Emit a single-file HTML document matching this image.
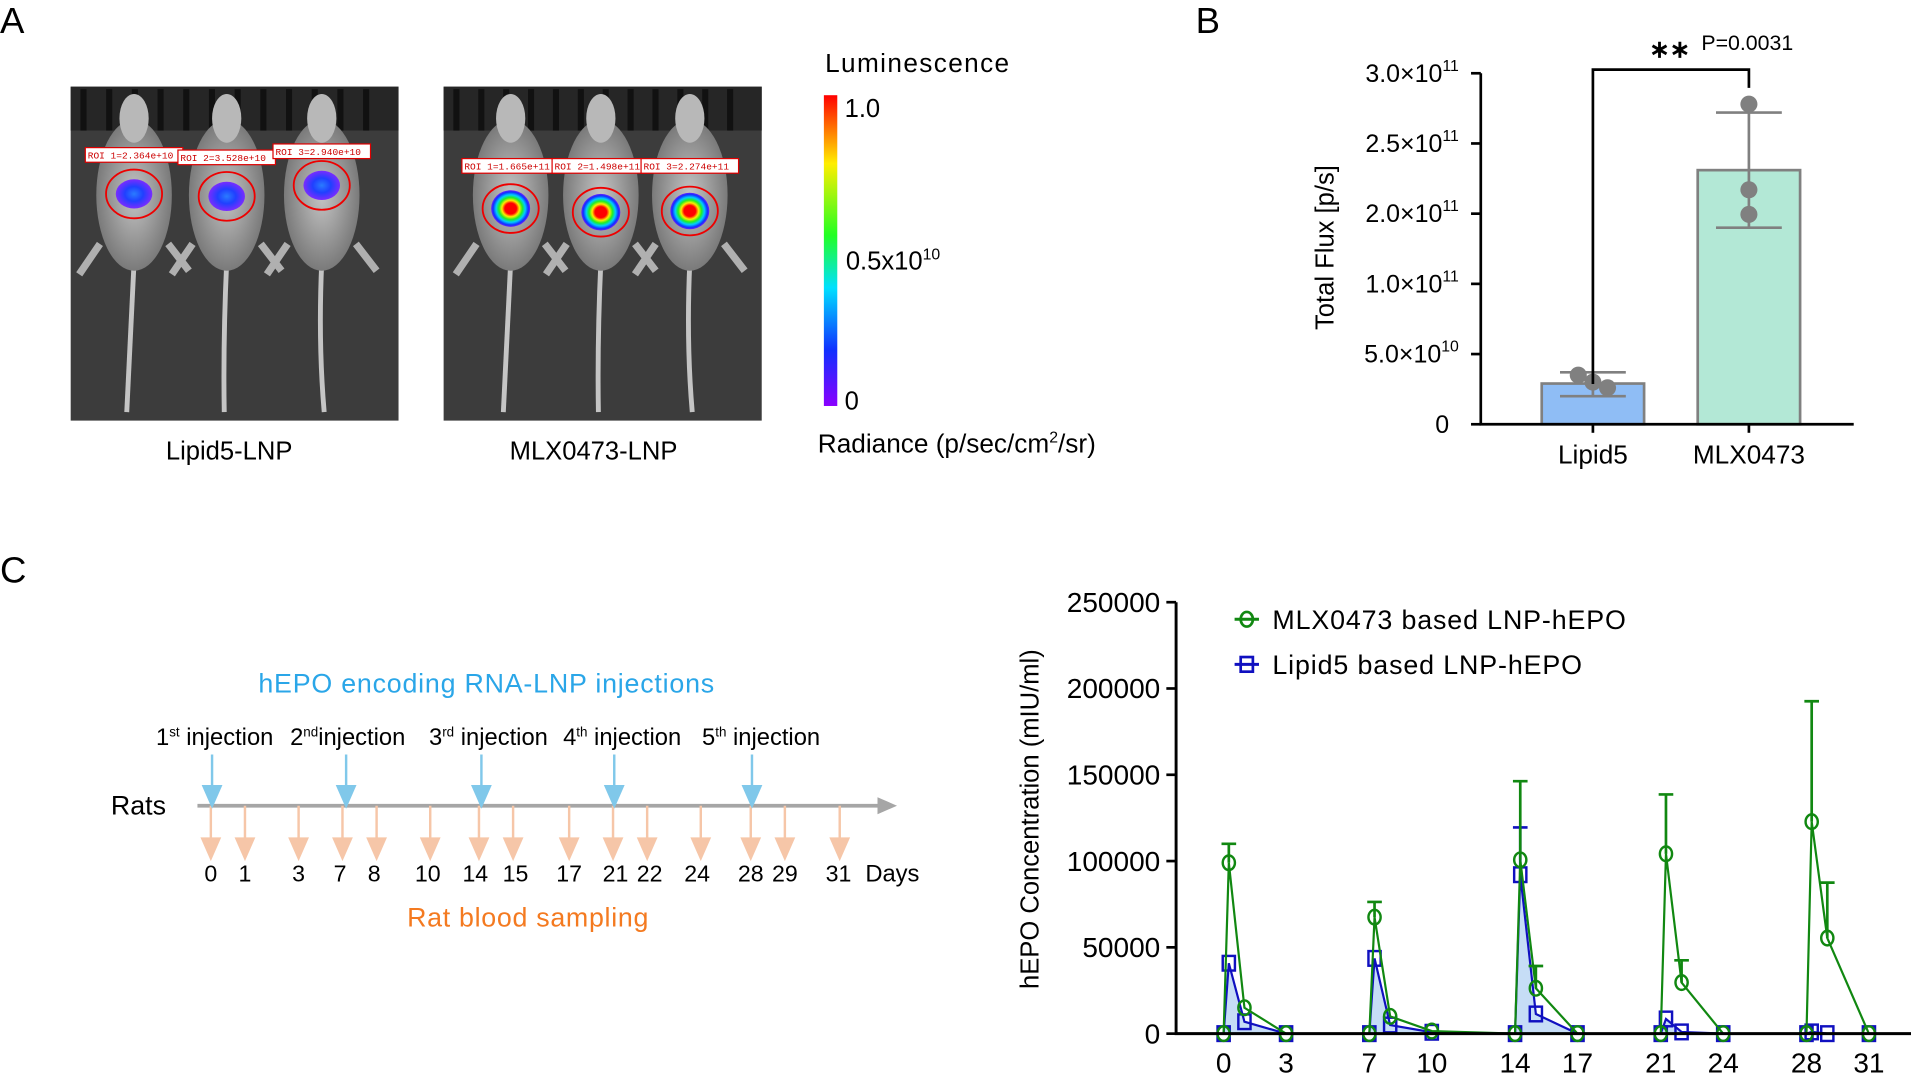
<!DOCTYPE html>
<html><head><meta charset="utf-8"><style>
html,body{margin:0;padding:0;background:#fff}
svg{display:block;font-family:"Liberation Sans",Arial,sans-serif}
</style></head><body>
<svg id="fig" width="1911" height="1074" viewBox="0 0 1568 881" xmlns="http://www.w3.org/2000/svg">
<defs>
<linearGradient id="cbar" x1="0" y1="0" x2="0" y2="1">
<stop offset="0" stop-color="#ff0000"/><stop offset="0.22" stop-color="#ffee00"/><stop offset="0.45" stop-color="#22ff22"/><stop offset="0.62" stop-color="#00e0ff"/><stop offset="0.82" stop-color="#1030ff"/><stop offset="1" stop-color="#8a00ff"/>
</linearGradient>
<radialGradient id="hot"><stop offset="0" stop-color="#ff0000"/><stop offset="0.3" stop-color="#ff0000"/><stop offset="0.45" stop-color="#ffee00"/><stop offset="0.6" stop-color="#22ee22"/><stop offset="0.75" stop-color="#00ccff"/><stop offset="0.9" stop-color="#1030ff"/><stop offset="1" stop-color="#6a20ff"/></radialGradient>
<radialGradient id="cold"><stop offset="0" stop-color="#2a7cff"/><stop offset="0.5" stop-color="#2040ff"/><stop offset="1" stop-color="#7a2cff"/></radialGradient>
<radialGradient id="mouse"><stop offset="0" stop-color="#c4c4c4"/><stop offset="1" stop-color="#7a7a7a"/></radialGradient>
</defs>

<!-- Panel A -->
<text x="0" y="27" font-size="30">A</text>
<g id="imgs"></g>
<rect x="676" y="78" width="11" height="255" fill="url(#cbar)"/>
<text x="677" y="59" font-size="21.5" textLength="151">Luminescence</text>
<text x="693" y="96" font-size="21">1.0</text>
<text x="694" y="221" font-size="21">0.5x10<tspan font-size="13" dy="-8">10</tspan></text>
<text x="693" y="336" font-size="21">0</text>
<text x="671" y="371" font-size="21.5">Radiance (p/sec/cm<tspan font-size="13" dy="-8">2</tspan><tspan dy="8">/sr)</tspan></text>
<text x="188" y="377" font-size="21" text-anchor="middle">Lipid5-LNP</text>
<text x="487" y="377" font-size="21" text-anchor="middle">MLX0473-LNP</text>

<!-- Panel B -->
<text x="981" y="27" font-size="30">B</text>
<g id="barchart"></g>

<!-- Panel C -->
<text x="0" y="478" font-size="30">C</text>
<g id="timeline"></g>
<g id="linechart"></g>
</svg>
<script>
// ---- Bar chart data ----
const barCats = ["Lipid5", "MLX0473"];
const barMeans = [0.29, 2.31];
const barErrLow = [0.20, 1.80];
const barErrHigh = [0.37, 2.72];
const barPoints = [[0.35, 0.30, 0.26], [2.78, 2.17, 1.99]];
const barTickVals = [0, 0.5, 1.0, 2.0, 2.5, 3.0];
const barTickMant = ["0", "5.0", "1.0", "2.0", "2.5", "3.0"];
const barTickExp = ["", "10", "11", "11", "11", "11"];
const pValue = "P=0.0031";

// ---- Line chart data ----
const days = [0, 0.25, 1, 3, 7, 7.25, 8, 10, 14, 14.25, 15, 17, 21, 21.25, 22, 24, 28, 28.25, 29, 31];
const mlxVals = [0, 99000, 15000, 0, 0, 67500, 10000, 1500, 0, 100700, 26300, 0, 0, 104200, 29600, 0, 0, 122800, 55400, 0];
const mlxErr = [0, 11000, 0, 0, 0, 8800, 0, 0, 0, 45600, 12900, 0, 0, 34400, 12900, 0, 0, 69800, 32100, 0];
const lipVals = [0, 40800, 6900, 0, 0, 43600, 5000, 800, 0, 92100, 11400, 0, 0, 8500, 1000, 0, 0, 1000, 0, 0];
const lipErr = [0, 0, 0, 0, 0, 0, 0, 0, 0, 27400, 0, 0, 0, 0, 0, 0, 0, 0, 0, 0];
const xTickDays = [0, 3, 7, 10, 14, 17, 21, 24, 28, 31];
const yTicks = [0, 50000, 100000, 150000, 200000, 250000];
const legendLabels = ["MLX0473 based LNP-hEPO", "Lipid5 based LNP-hEPO"];

// ---- Timeline data ----
const injDays = [0, 7, 14, 21, 28];
const injOrd = ["st", "nd", "rd", "th", "th"];
const sampleDays = [0, 1, 3, 7, 8, 10, 14, 15, 17, 21, 22, 24, 28, 29, 31];

const NS = "http://www.w3.org/2000/svg";
function mk(tag, attrs, parent, text) {
  const e = document.createElementNS(NS, tag);
  for (const k in attrs) e.setAttribute(k, attrs[k]);
  if (text !== undefined) e.textContent = text;
  parent.appendChild(e);
  return e;
}

// ===== Images (panel A) =====
(function () {
  const g = document.getElementById('imgs');
  const panels = [
    {x: 58, w: 269, mice: [110, 186, 264], by: [159, 161, 152], hot: false, rois: ["ROI 1=2.364e+10", "ROI 2=3.528e+10", "ROI 3=2.940e+10"], ry: [128, 130, 125]},
    {x: 364, w: 261, mice: [419, 493, 566], by: [171, 174, 173], hot: true, rois: ["ROI 1=1.665e+11", "ROI 2=1.498e+11", "ROI 3=2.274e+11"], ry: [137, 137, 137]}
  ];
  panels.forEach((p, pi) => {
    const pg = mk('g', {}, g);
    
    
    mk('rect', {x: p.x, y: 71, width: p.w, height: 274, fill: '#3c3c3c'}, pg);
    mk('rect', {x: p.x, y: 71, width: p.w, height: 36, fill: '#262626'}, pg);
    for (let i = 0; i < 12; i++) mk('rect', {x: p.x + 8 + i * (p.w - 16) / 12, y: 73, width: 5, height: 34, fill: '#111'}, pg);
    p.mice.forEach((mx, i) => {
      const by = p.by[i];
      mk('path', {d: `M${mx} 215 Q${mx - 3} 280 ${mx - 6 + i * 4} 338`, stroke: '#c4c4c4', 'stroke-width': 4, fill: 'none'}, pg);
      mk('ellipse', {cx: mx, cy: 160, rx: 31, ry: 62, fill: 'url(#mouse)'}, pg);
      mk('ellipse', {cx: mx, cy: 97, rx: 12, ry: 20, fill: '#b8b8b8'}, pg);
      mk('path', {d: `M${mx - 28} 200 L${mx - 45} 225 M${mx + 28} 200 L${mx + 45} 222`, stroke: '#b0b0b0', 'stroke-width': 6, fill: 'none'}, pg);
      mk('ellipse', {cx: mx, cy: by, rx: p.hot ? 16 : 15, ry: p.hot ? 15 : 12, fill: p.hot ? 'url(#hot)' : 'url(#cold)'}, pg);
      mk('ellipse', {cx: mx, cy: by, rx: 23, ry: 20, fill: 'none', stroke: '#e00', 'stroke-width': 1.5}, pg);
      const lw = 80, lx = Math.max(p.x, Math.min(p.x + p.w - lw, mx - lw / 2));
      mk('rect', {x: lx, y: p.ry[i] - 7, width: lw, height: 12, fill: '#fff', stroke: '#d00', 'stroke-width': 1}, pg);
      const t = mk('text', {x: lx + 2, y: p.ry[i] + 2, 'font-size': 7.8, fill: '#c00', 'font-family': '"Liberation Mono",monospace'}, pg, p.rois[i]);
      
      
    });
  });
})();

// ===== Bar chart (panel B) =====
(function () {
  const g = document.getElementById('barchart');
  const ax = 1215, y0 = 348, step = 57.6;
  function yb(v) {
    for (let i = 0; i < barTickVals.length - 1; i++) {
      if (v <= barTickVals[i + 1]) return y0 - (i + (v - barTickVals[i]) / (barTickVals[i + 1] - barTickVals[i])) * step;
    }
    return y0 - (barTickVals.length - 1) * step;
  }
  const cx = [1307, 1435];
  const fills = ['#8fbdf5', '#b3e8d6'];
  barCats.forEach((c, i) => {
    const top = yb(barMeans[i]);
    const r = mk('rect', {x: cx[i] - 42, y: top, width: 84, height: y0 - top, fill: fills[i], stroke: '#808080', 'stroke-width': 2.2}, g);
    
    
    const e = mk('path', {d: `M${cx[i]} ${yb(barErrHigh[i])} V${yb(barErrLow[i])} M${cx[i] - 27} ${yb(barErrHigh[i])} H${cx[i] + 27} M${cx[i] - 27} ${yb(barErrLow[i])} H${cx[i] + 27}`, stroke: '#808080', 'stroke-width': 2.2, fill: 'none'}, g);
    
    
    barPoints[i].forEach((v, j) => {
      const px = i === 0 ? cx[i] - 12 + j * 12 : cx[i];
      const d = mk('circle', {cx: px, cy: yb(v), r: 7, fill: '#808080'}, g);
      
      
    });
    const lt = mk('text', {x: cx[i], y: 380, 'font-size': 21.5, 'text-anchor': 'middle'}, g, c);
    
    
    mk('line', {x1: cx[i], y1: y0, x2: cx[i], y2: y0 + 7, stroke: '#000', 'stroke-width': 2.2}, g);
  });
  const axis = mk('path', {d: `M${ax} ${y0 - 5 * step} V${y0} H1521`, stroke: '#000', 'stroke-width': 2.2, fill: 'none'}, g);
  
  
  barTickVals.forEach((v, i) => {
    const y = y0 - i * step;
    mk('line', {x1: ax - 8, y1: y, x2: ax, y2: y, stroke: '#000', 'stroke-width': 2.2}, g);
    const t = mk('text', {x: ax - 18, y: y + 7, 'font-size': 20.5, 'text-anchor': 'end'}, g);
    
    
    if (barTickExp[i]) {
      t.textContent = barTickMant[i] + '\u00d710';
      mk('tspan', {'font-size': 13, dy: -9}, t, barTickExp[i]);
    } else { t.setAttribute('x', ax - 26); t.textContent = barTickMant[i]; }
  });
  const yt = mk('text', {x: 0, y: 0, 'font-size': 21, 'text-anchor': 'middle', transform: 'translate(1094,203) rotate(-90)'}, g, 'Total Flux [p/s]');
  
  
  const br = mk('path', {d: `M1307 315 V57 H1435 V72`, stroke: '#000', 'stroke-width': 2.2, fill: 'none'}, g);
  
  
  const st = mk('text', {x: 1370, y: 47, 'font-size': 20, 'text-anchor': 'middle', 'font-weight': 'bold'}, g, '\u2217\u2217');
  
  
  const pv = mk('text', {x: 1396, y: 41, 'font-size': 17.5}, g, pValue);
  
  
})();

// ===== Timeline (panel C left) =====
(function () {
  const g = document.getElementById('timeline');
  const sx = [173, 201, 245, 281, 309, 353, 393, 421, 467, 503, 531, 575, 616, 644, 689];
  const lx = [173, 201, 245, 279, 307, 351, 390, 423, 467, 505, 533, 572, 616, 644, 688];
  const injX = [174, 284, 395, 504, 617];
  const injLabelX = [128, 238, 352, 462, 576];
  const ly = 661;
  const tl = mk('line', {x1: 162, y1: ly, x2: 722, y2: ly, stroke: '#a6a6a6', 'stroke-width': 3}, g);
  
  
  mk('path', {d: `M720 654 L736 661 L720 668 Z`, fill: '#a6a6a6'}, g);
  const rt = mk('text', {x: 91, y: 668, 'font-size': 22}, g, 'Rats');
  
  
  sampleDays.forEach((d, i) => {
    const a = mk('path', {d: `M${sx[i]} ${ly} V690 M${sx[i] - 7} 688 L${sx[i]} 704 L${sx[i] + 7} 688 Z`, stroke: '#f6c6a8', 'stroke-width': 2, fill: '#f6c6a8'}, g);
    
    
    const t = mk('text', {x: lx[i], y: 723, 'font-size': 19, 'text-anchor': 'middle'}, g, String(d));
    
    
  });
  const dt = mk('text', {x: 710, y: 723, 'font-size': 19.5}, g, 'Days');
  
  
  injDays.forEach((d, i) => {
    const a = mk('path', {d: `M${injX[i]} 619 V648 M${injX[i] - 7} 645 L${injX[i]} 661 L${injX[i] + 7} 645 Z`, stroke: '#80c8ea', 'stroke-width': 2, fill: '#80c8ea'}, g);
    
    
    const t = mk('text', {x: injLabelX[i], y: 611, 'font-size': 19.5}, g, String(i + 1));
    mk('tspan', {'font-size': 11, dy: -7}, t, injOrd[i]);
    mk('tspan', {dy: 7}, t, (i === 1 ? '' : ' ') + 'injection');
    
    
  });
  const bt = mk('text', {x: 399, y: 568, 'font-size': 22, 'text-anchor': 'middle', fill: '#2aa6e8', textLength: 374}, g, 'hEPO encoding RNA-LNP injections');
  
  
  const ot = mk('text', {x: 433, y: 760, 'font-size': 22, 'text-anchor': 'middle', fill: '#f47a20', textLength: 198}, g, 'Rat blood sampling');
  
  
})();

// ===== Line chart (panel C right) =====
(function () {
  const g = document.getElementById('linechart');
  const ax = 965, y0 = 848, yTop = 494, yMax = 250000;
  const xs = d => 1004 + d * 17.08;
  const ys = v => y0 - v / yMax * (y0 - yTop);
  let fd = `M${xs(days[0])} ${y0}`;
  days.forEach((d, i) => fd += ` L${xs(d)} ${ys(lipVals[i])}`);
  fd += ` L${xs(days[days.length - 1])} ${y0} Z`;
  const fa = mk('path', {d: fd, fill: '#c6ddf6'}, g);
  
  
  function series(vals, errs, col, name, circle) {
    const sg = mk('g', {}, g);
    
    
    vals.forEach((v, i) => {
      if (errs[i] > 0) {
        const x = xs(days[i]), yt = ys(v + errs[i]);
        const e = mk('path', {d: `M${x} ${ys(v)} V${yt} M${x - 6} ${yt} H${x + 6}`, stroke: col, 'stroke-width': 2.2, fill: 'none'}, sg);
        
        
      }
    });
    mk('polyline', {points: vals.map((v, i) => xs(days[i]) + ',' + ys(v)).join(' '), stroke: col, 'stroke-width': 1.8, fill: 'none'}, sg);
    vals.forEach((v, i) => {
      const x = xs(days[i]), y = ys(v);
      const m = circle ? mk('ellipse', {cx: x, cy: y, rx: 5, ry: 6, fill: 'none', stroke: col, 'stroke-width': 2}, sg)
                       : mk('rect', {x: x - 5, y: y - 6, width: 10, height: 12, fill: 'none', stroke: col, 'stroke-width': 2}, sg);
      
      
    });
  }
  series(lipVals, lipErr, '#1010c0', 'lipid5-series', false);
  series(mlxVals, mlxErr, '#118811', 'mlx0473-series', true);
  const axis = mk('path', {d: `M${ax} ${yTop} V${y0} H1568`, stroke: '#000', 'stroke-width': 2.4, fill: 'none'}, g);
  
  
  yTicks.forEach(v => {
    mk('line', {x1: ax - 8, y1: ys(v), x2: ax, y2: ys(v), stroke: '#000', 'stroke-width': 2.2}, g);
    const t = mk('text', {x: ax - 13, y: ys(v) + 8, 'font-size': 23, 'text-anchor': 'end'}, g, String(v));
    
    
  });
  xTickDays.forEach(d => {
    const t = mk('text', {x: xs(d), y: 880, 'font-size': 23, 'text-anchor': 'middle'}, g, String(d));
    
    
  });
  const yt = mk('text', {x: 0, y: 0, 'font-size': 21, 'text-anchor': 'middle', transform: 'translate(852,672) rotate(-90)'}, g, 'hEPO Concentration (mIU/ml)');
  
  
  const lg = mk('g', {}, g);
  
  
  const lens = [290, 254];
  [['#118811', true], ['#1010c0', false]].forEach(([col, circ], i) => {
    const y = 508 + i * 37;
    mk('line', {x1: 1013, y1: y, x2: 1033, y2: y, stroke: col, 'stroke-width': 2.4}, lg);
    if (circ) mk('ellipse', {cx: 1023, cy: y, rx: 5, ry: 6, fill: 'none', stroke: col, 'stroke-width': 2.2}, lg);
    else mk('rect', {x: 1018, y: y - 6, width: 10, height: 12, fill: 'none', stroke: col, 'stroke-width': 2.2}, lg);
    const t = mk('text', {x: 1044, y: y + 8, 'font-size': 22, textLength: lens[i]}, lg, legendLabels[i]);
    
    
  });
})();
</script>
</body></html>
